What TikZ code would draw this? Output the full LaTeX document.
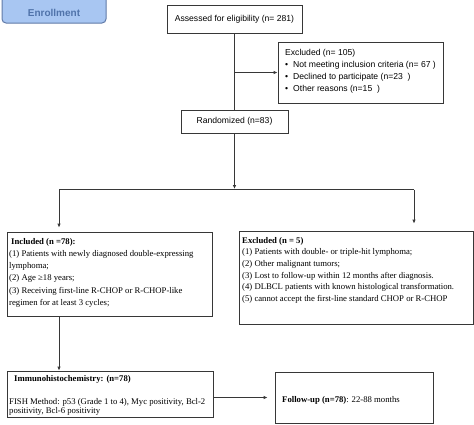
\documentclass[tikz,border=0pt]{standalone}
\usepackage{fontspec}
\setmainfont{Liberation Serif}
\setsansfont{Liberation Sans}
\usetikzlibrary{arrows.meta}
\definecolor{enrfill}{RGB}{168,198,242}
\definecolor{enrdraw}{RGB}{96,122,168}
\definecolor{enrtext}{RGB}{80,115,170}
\definecolor{linec}{RGB}{55,55,55}
\tikzset{
  box/.style={draw=linec, line width=0.8pt, inner sep=0pt},
  stxt/.style={inner sep=0pt, font=\sffamily\fontsize{8.6}{11.7}\selectfont, align=left},
  rtxt/.style={inner sep=0pt, font=\rmfamily\fontsize{8.7}{12.2}\selectfont, align=left},
  conn/.style={draw=linec, line width=0.8pt},
  arr/.style={conn, -{Latex[length=4pt,width=3.5pt]}},
}
\begin{document}
\begin{tikzpicture}[x=1pt,y=-1pt]
\useasboundingbox (0,0) rectangle (474,424);
% Enrollment
\begin{scope}
\clip (0,0) rectangle (474,424);
\draw[fill=enrfill, draw=enrdraw, line width=1pt, rounded corners=4pt] (2,-10) rectangle (106,23);
\end{scope}
\node[font=\sffamily\bfseries\fontsize{10}{12}\selectfont, text=enrtext] (enr) at (54,12.5) {Enrollment};
% Assessed
\node[box, minimum width=135pt, minimum height=28pt, font=\sffamily\fontsize{8.6}{10}\selectfont] (ass) at (234.5,19) {Assessed for eligibility (n= 281)};
% Excluded 105
\node[box, minimum width=165pt, minimum height=61pt] (exc) at (360.5,72.5) {};
\node[stxt, anchor=north west] (exct) at (285,49.5) {Excluded (n= 105)\\
\makebox[8pt][l]{\textbullet}Not meeting inclusion criteria (n= 67 )\\
\makebox[8pt][l]{\textbullet}Declined to participate (n=23 \ )\\
\makebox[8pt][l]{\textbullet}Other reasons (n=15 \ )};
% Randomized
\node[box, minimum width=107pt, minimum height=23pt, font=\sffamily\fontsize{8.6}{10}\selectfont] (ran) at (234.5,121.5) {Randomized (n=83)};
\coordinate (j1) at (234.5,72.5);
\draw[conn] (ass.south) -- (ran.north);
\draw[arr] (j1) -- (exc.west);
% split
\coordinate (sp) at (234.5,189.5);
\coordinate (spl) at (59,189.5);
\coordinate (spr) at (414,189.5);
\draw[arr, shorten >=0.5pt] (ran.south) -- (sp);
\draw[conn] (spl) -- (spr);
% Included
\node[box, minimum width=205pt, minimum height=84pt] (inc) at (109.5,274) {};
\node[rtxt, anchor=north west] (inct) at (9,238) {\hspace{2pt}\textbf{Included (n =78):}\\
(1) Patients with newly diagnosed double-expressing\\
lymphoma;\\
(2) Age ≥18 years;\\
(3) Receiving first-line R-CHOP or R-CHOP-like\\
regimen for at least 3 cycles;};
% Excluded 5
\node[box, minimum width=234pt, minimum height=93pt] (ex5) at (356,277.5) {};
\node[rtxt, anchor=north west, font=\rmfamily\fontsize{8.7}{11.6}\selectfont] (ex5t) at (242,237) {\textbf{Excluded (n = 5)}\\
(1) Patients with double- or triple-hit lymphoma;\\
(2) Other malignant tumors;\\
(3) Lost to follow-up within 12 months after diagnosis.\\
(4) DLBCL patients with known histological transformation.\\
(5) cannot accept the first-line standard CHOP or R-CHOP};
\draw[arr, shorten >=4pt] (spl) -- (spl |- inc.north);
\draw[arr, shorten >=7pt] (spr) -- (spr |- ex5.north);
% Immuno
\node[box, minimum width=206pt, minimum height=46pt] (imm) at (110,394) {};
\node[rtxt, anchor=north west] (immt) at (14,375.5) {\textbf{Immunohistochemistry: (n=78)}};
\node[rtxt, anchor=north west, font=\rmfamily\fontsize{8.7}{9.5}\selectfont] (immb) at (9,398) {FISH Method: p53 (Grade 1 to 4), Myc positivity, Bcl-2\\
positivity, Bcl-6 positivity};
\draw[arr] (inc.south -| spl) -- (imm.north -| spl);
% Follow-up
\node[box, minimum width=158pt, minimum height=51pt] (fol) at (354,397.5) {};
\node[rtxt, anchor=west] (folt) at (282,400) {\textbf{Follow-up (n=78)}: 22-88 months};
\draw[arr, shorten >=7pt] (imm.east |- fol.west) -- (fol.west);
\end{tikzpicture}
\end{document}
